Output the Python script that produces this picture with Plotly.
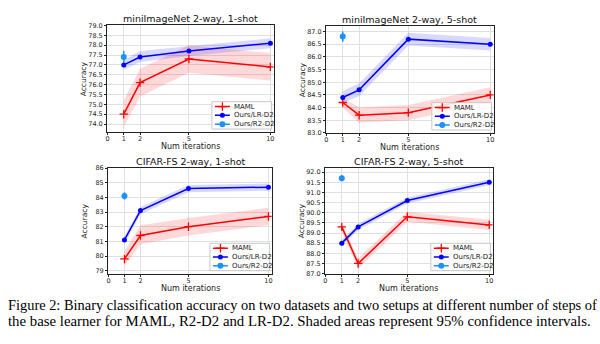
import plotly.graph_objects as go

iters = [1, 2, 5, 10]
xticks = [0, 1, 2, 5, 10]

titles = ["miniImageNet 2-way, 1-shot", "miniImageNet 2-way, 5-shot",
          "CIFAR-FS 2-way, 1-shot", "CIFAR-FS 2-way, 5-shot"]
series_names = ["MAML", "Ours/LR-D2", "Ours/R2-D2"]

# miniImageNet 1-shot
mi1_maml = [74.5, 76.1, 77.3, 76.9]
mi1_maml_lo = [73.85, 75.4, 76.6, 76.2]
mi1_maml_hi = [75.2, 76.8, 78.0, 77.6]
mi1_lr = [77.0, 77.4, 77.7, 78.1]
mi1_lr_lo = [76.75, 77.15, 77.45, 77.85]
mi1_lr_hi = [77.25, 77.7, 77.95, 78.35]
mi1_r2 = 77.4
mi1_r2_err = 0.3

# miniImageNet 5-shot
mi5_maml = [84.2, 83.7, 83.8, 84.5]
mi5_maml_lo = [84.0, 83.4, 83.5, 84.2]
mi5_maml_hi = [84.4, 84.0, 84.1, 84.8]
mi5_lr = [84.4, 84.7, 86.7, 86.5]
mi5_lr_lo = [84.2, 84.45, 86.45, 86.25]
mi5_lr_hi = [84.65, 84.95, 86.95, 86.75]
mi5_r2 = 86.8
mi5_r2_err = 0.2

# CIFAR-FS 1-shot
cf1_maml = [79.8, 81.4, 82.0, 82.7]
cf1_maml_lo = [79.3, 80.8, 81.4, 82.1]
cf1_maml_hi = [80.3, 82.1, 82.6, 83.3]
cf1_lr = [81.1, 83.1, 84.6, 84.7]
cf1_lr_lo = [80.85, 82.85, 84.35, 84.45]
cf1_lr_hi = [81.35, 83.35, 84.85, 84.95]
cf1_r2 = 84.1
cf1_r2_err = 0.25

# CIFAR-FS 5-shot
cf5_maml = [89.3, 87.5, 89.8, 89.4]
cf5_maml_lo = [89.1, 87.25, 89.55, 89.15]
cf5_maml_hi = [89.5, 87.75, 90.05, 89.65]
cf5_lr = [88.5, 89.3, 90.6, 91.5]
cf5_lr_lo = [88.35, 89.15, 90.45, 91.35]
cf5_lr_hi = [88.65, 89.45, 90.75, 91.65]
cf5_r2 = 91.7
cf5_r2_err = 0.15

panels = [
    (mi1_maml, mi1_maml_lo, mi1_maml_hi, mi1_lr, mi1_lr_lo, mi1_lr_hi, mi1_r2, mi1_r2_err),
    (mi5_maml, mi5_maml_lo, mi5_maml_hi, mi5_lr, mi5_lr_lo, mi5_lr_hi, mi5_r2, mi5_r2_err),
    (cf1_maml, cf1_maml_lo, cf1_maml_hi, cf1_lr, cf1_lr_lo, cf1_lr_hi, cf1_r2, cf1_r2_err),
    (cf5_maml, cf5_maml_lo, cf5_maml_hi, cf5_lr, cf5_lr_lo, cf5_lr_hi, cf5_r2, cf5_r2_err),
]

yranges = [[73.6, 79.0], [83.0, 87.2], [78.8, 86.0], [87.0, 92.2]]
ydtick = [0.5, 0.5, 1, 0.5]
yfmt = [".1f", ".1f", "d", ".1f"]

W, H = 600, 344
# pixel boxes (left, right, top, bottom)
boxes = [(106, 273, 22, 131), (326, 494, 23, 132), (107, 271, 168, 276), (325, 493, 168, 276)]

RED = "#ff0000"
BLUE = "#0000ff"
LBLUE = "#1e90ff"
FONT = "DejaVu Sans"
INK = "#222222"

# legend geometry (pixels)
LEG_W, LEG_H = 60, 28
leg_rows = [5, 14, 23]
leg_line = [3, 18]
PAD = 2

styles = [
    dict(line=dict(color=RED, width=1.5),
         marker=dict(symbol="cross-thin", size=6, color=RED, line=dict(color=RED, width=1.3))),
    dict(line=dict(color=BLUE, width=1.5),
         marker=dict(symbol="circle", size=5, color=BLUE)),
    dict(line=dict(color=LBLUE, width=1.5),
         marker=dict(symbol="circle", size=6, color=LBLUE)),
]

fig = go.Figure()
layout = {}
annotations = []

for i, (p, box) in enumerate(zip(panels, boxes)):
    maml, mlo, mhi, lr, llo, lhi, r2, r2e = p
    n = "" if i == 0 else str(i + 1)
    xa, ya = "x" + n, "y" + n
    # confidence bands
    fig.add_trace(go.Scatter(x=iters + iters[::-1], y=mhi + mlo[::-1], fill="toself", mode="none",
                             fillcolor="rgba(255,0,0,0.15)", hoverinfo="skip",
                             showlegend=False, xaxis=xa, yaxis=ya))
    fig.add_trace(go.Scatter(x=iters + iters[::-1], y=lhi + llo[::-1], fill="toself", mode="none",
                             fillcolor="rgba(0,0,255,0.15)", hoverinfo="skip",
                             showlegend=False, xaxis=xa, yaxis=ya))
    fig.add_trace(go.Scatter(x=iters, y=maml, mode="lines+markers", name=series_names[0],
                             showlegend=False, xaxis=xa, yaxis=ya, **styles[0]))
    fig.add_trace(go.Scatter(x=iters, y=lr, mode="lines+markers", name=series_names[1],
                             showlegend=False, xaxis=xa, yaxis=ya, **styles[1]))
    fig.add_trace(go.Scatter(x=[iters[0]], y=[r2], mode="markers", name=series_names[2],
                             marker=styles[2]["marker"],
                             error_y=dict(type="data", array=[r2e], color=LBLUE,
                                          thickness=1.5, width=0),
                             showlegend=False, xaxis=xa, yaxis=ya))

    l, r, t, b = box
    xdom = [l / W, r / W]
    ydom = [1 - b / H, 1 - t / H]
    axcommon = dict(showline=True, linecolor=INK, linewidth=0.8, mirror=True,
                    ticks="outside", ticklen=2.5, tickwidth=0.8, tickcolor=INK,
                    showgrid=True, gridcolor="#e0e0e0", gridwidth=1, zeroline=False,
                    tickfont=dict(family=FONT, size=6.5, color=INK))
    layout["xaxis" + n] = dict(domain=xdom, range=[0, 10.2], tickvals=xticks,
                               anchor=ya, ticklabelstandoff=-2, **axcommon)
    layout["yaxis" + n] = dict(domain=ydom, range=yranges[i], dtick=ydtick[i],
                               tick0=0, tickformat=yfmt[i], anchor=xa, **axcommon)

    # titles and axis labels
    annotations.append(dict(text=titles[i], x=(l + r) / 2 / W, y=1 - (t - 7) / H,
                            xref="paper", yref="paper", xanchor="center", yanchor="middle",
                            showarrow=False, font=dict(family=FONT, size=9.5, color="#111")))
    annotations.append(dict(text="Num iterations", x=(l + r) / 2 / W, y=1 - (b + 15) / H,
                            xref="paper", yref="paper", xanchor="center", yanchor="middle",
                            showarrow=False, font=dict(family=FONT, size=8, color=INK)))
    annotations.append(dict(text="Accuracy", x=(l - 24) / W, y=1 - (t + b) / 2 / H,
                            xref="paper", yref="paper", xanchor="center", yanchor="middle",
                            textangle=-90, showarrow=False,
                            font=dict(family=FONT, size=7.5, color=INK)))

    # compact legend drawn on its own hidden axes (pixel units inside the legend box)
    k = i + 5
    lx, ly = "x" + str(k), "y" + str(k)
    lr_ = r - 2
    lb_ = b - 3
    ll_ = lr_ - LEG_W
    lt_ = lb_ - LEG_H
    layout["xaxis" + str(k)] = dict(domain=[(ll_ - PAD) / W, (lr_ + PAD) / W],
                                    range=[-PAD, LEG_W + PAD], visible=False,
                                    fixedrange=True, anchor=ly)
    layout["yaxis" + str(k)] = dict(domain=[1 - (lb_ + PAD) / H, 1 - (lt_ - PAD) / H],
                                    range=[LEG_H + PAD, -PAD],
                                    visible=False, fixedrange=True, anchor=lx)
    fig.add_trace(go.Scatter(x=[0, LEG_W, LEG_W, 0, 0], y=[0, 0, LEG_H, LEG_H, 0],
                             mode="lines", fill="toself", fillcolor="rgba(255,255,255,0.85)",
                             line=dict(color="#c8c8c8", width=1), hoverinfo="skip",
                             showlegend=False, xaxis=lx, yaxis=ly))
    for j, nm in enumerate(series_names):
        yy = leg_rows[j]
        fig.add_trace(go.Scatter(x=leg_line, y=[yy, yy], mode="lines", line=styles[j]["line"],
                                 hoverinfo="skip", showlegend=False, xaxis=lx, yaxis=ly))
        fig.add_trace(go.Scatter(x=[sum(leg_line) / 2], y=[yy], mode="markers",
                                 marker=styles[j]["marker"], hoverinfo="skip",
                                 showlegend=False, xaxis=lx, yaxis=ly))
        annotations.append(dict(text=nm, x=20.5, y=yy, xref=lx, yref=ly, xanchor="left",
                                yanchor="middle", showarrow=False,
                                font=dict(family=FONT, size=7, color=INK)))

caption1 = "Figure 2: Binary classification accuracy on two datasets and two setups at different number of steps of"
caption2 = "the base learner for MAML, R2-D2 and LR-D2. Shaded areas represent 95% confidence intervals."
for k, (cap, sz) in enumerate([(caption1, 14.4), (caption2, 14.8)]):
    annotations.append(dict(text=cap, x=4 / W, y=1 - (308 + 17 * k) / H, xref="paper", yref="paper",
                            xanchor="left", yanchor="middle", showarrow=False,
                            font=dict(family="Liberation Serif", size=sz, color="#000")))

fig.update_layout(width=W, height=H, margin=dict(l=0, r=0, t=0, b=0),
                  paper_bgcolor="white", plot_bgcolor="rgba(0,0,0,0)", showlegend=False,
                  annotations=annotations, **layout)
fig.write_html("out.html")
